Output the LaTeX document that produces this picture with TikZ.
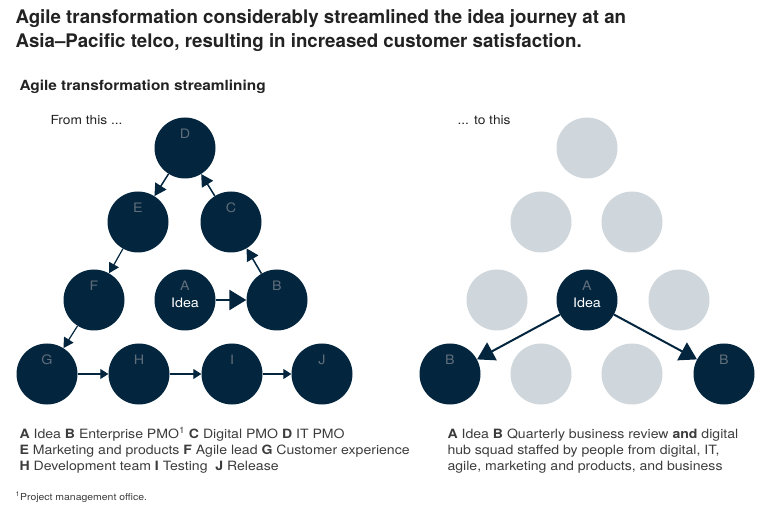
\documentclass[tikz,border=0pt]{standalone}
\usepackage{fontspec}
\setmainfont{TeX Gyre Heros}[FakeStretch=1.1]
\newfontfamily\titlefont{TeX Gyre Heros}[Ligatures=TeX]
\usetikzlibrary{arrows.meta}

\definecolor{navy}{RGB}{3,37,62}
\definecolor{mist}{RGB}{208,215,220}
\definecolor{slate}{RGB}{96,110,122}
\definecolor{ink}{RGB}{34,34,34}
\definecolor{inkgray}{RGB}{60,60,60}

\tikzset{
	bubble/.style={circle, fill=navy, minimum size=61pt, inner sep=0pt},
	pale/.style={circle, fill=mist, minimum size=61pt, inner sep=0pt},
	ltr/.style={text=slate, font=\fontsize{13}{13}\selectfont, yshift=14pt},
	idea/.style={text=white, font=\fontsize{13}{13}\selectfont, yshift=-3pt},
	bigarrow/.style={draw=navy, line width=2.6pt, -{Triangle[length=17pt, width=20pt]}},
	sidearrow/.style={draw=navy, line width=2pt, -{Triangle[length=17pt, width=20pt]}},
	midarrow/.style={draw=navy, line width=1.5pt, -{Triangle[length=12pt, width=13pt]}},
	lowarrow/.style={draw=navy, line width=1.2pt, -{Triangle[length=10pt, width=11pt]}},
	smallarrow/.style={draw=navy, line width=1pt, -{Triangle[length=8pt, width=10pt]}},
	caption/.style={anchor=base west, text=inkgray, font=\fontsize{12.8}{15}\selectfont},
}

\begin{document}
\begin{tikzpicture}[x=1pt, y=-1pt]
	\useasboundingbox (0,0) rectangle (774,521);

	% Headings:
	\node[anchor=base west, text=ink, font=\titlefont\fontsize{18.7}{22}\selectfont\bfseries] (title1) at (12,24) {Agile transformation considerably streamlined the idea journey at an};
	\node[anchor=base west, text=ink, font=\titlefont\fontsize{18.7}{22}\selectfont\bfseries] (title2) at (12,48) {Asia--Pacific telco, resulting in increased customer satisfaction.};
	\node[anchor=base west, text=ink, font=\fontsize{14}{16}\selectfont\bfseries] (sub) at (16,91) {Agile transformation streamlining};
	\node[anchor=base west, text=ink, font=\fontsize{12.5}{15}\selectfont] (from) at (47,125) {From this ...};
	\node[anchor=base west, text=ink, font=\fontsize{12.5}{15}\selectfont] (to) at (454,125) {... to this};

	% Left circles:
	\node[bubble, label={[ltr]center:D}] (D) at (185,148) {};
	\node[bubble, label={[ltr]center:E}] (E) at (138,222) {};
	\node[bubble, label={[ltr]center:C}] (C) at (231,222) {};
	\node[bubble, label={[ltr]center:F}] (F) at (94,300) {};
	\node[bubble, label={[ltr]center:A}, label={[idea]center:Idea}] (A) at (185,300) {};
	\node[bubble, label={[ltr]center:B}] (B) at (277,300) {};
	\node[bubble, label={[ltr]center:G}] (G) at (47,374) {};
	\node[bubble, label={[ltr]center:H}] (H) at (139,374) {};
	\node[bubble, label={[ltr]center:I}] (I) at (232,374) {};
	\node[bubble, label={[ltr]center:J}] (J) at (322,374) {};

	% Right circles:
	\node[pale] (r1) at (587,148) {};
	\node[pale] (r2) at (541,222) {};
	\node[pale] (r3) at (632,222) {};
	\node[pale] (r4) at (497,300) {};
	\node[bubble, label={[ltr]center:A}, label={[idea]center:Idea}] (rA) at (587,300) {};
	\node[pale] (r5) at (679,300) {};
	\node[bubble, label={[ltr]center:B}] (rB1) at (450,374) {};
	\node[pale] (r6) at (541,374) {};
	\node[pale] (r7) at (632,374) {};
	\node[bubble, label={[ltr]center:B}] (rB2) at (724,374) {};

	% Arrows:
	\draw[bigarrow] (A) -- (B);
	\draw[midarrow] (B) -- (C);
	\draw[midarrow] (C) -- (D);
	\draw[midarrow] (D) -- (E);
	\draw[lowarrow] (E) -- (F);
	\draw[lowarrow] (F) -- (G);
	\draw[smallarrow] (G) -- (H);
	\draw[smallarrow] (H) -- (I);
	\draw[smallarrow] (I) -- (J);
	\draw[sidearrow] (rA) -- (rB1);
	\draw[sidearrow] (rA) -- (rB2);

	% Legends:
	\node[caption] (keyL1) at (16,438) {\textbf{A} Idea \textbf{B} Enterprise PMO\textsuperscript{1} \textbf{C} Digital PMO \textbf{D} IT PMO};
	\node[caption] (keyL2) at (16,454) {\textbf{E} Marketing and products \textbf{F} Agile lead \textbf{G} Customer experience};
	\node[caption] (keyL3) at (16,470) {\textbf{H} Development team \textbf{I} Testing \ \textbf{J} Release};
	\node[caption] (keyR1) at (444,438) {\textbf{A} Idea \textbf{B} Quarterly business review \textbf{and} digital};
	\node[caption] (keyR2) at (444,454) {hub squad staffed by people from digital, IT,};
	\node[caption] (keyR3) at (444,470) {agile, marketing and products, and business};
	\node[anchor=base west, text=inkgray, font=\fontsize{9.5}{11}\selectfont] (note) at (12,500) {\textsuperscript{1}Project management office.};

\end{tikzpicture}
\end{document}
